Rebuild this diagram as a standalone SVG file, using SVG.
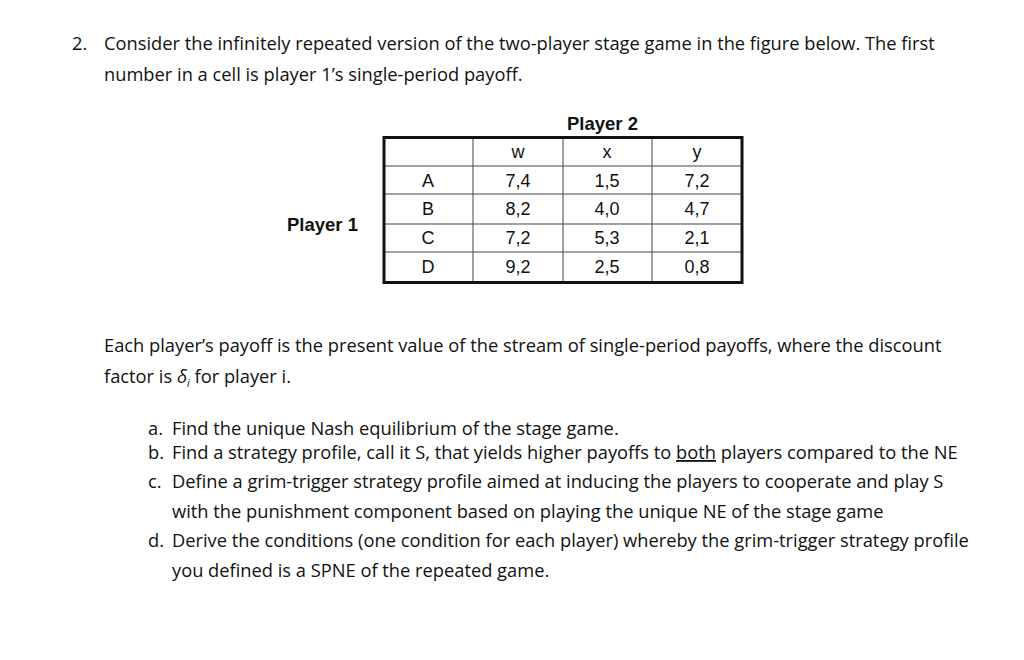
<svg xmlns="http://www.w3.org/2000/svg" width="1024" height="660" viewBox="0 0 1024 660">
<style>
.t{font-family:"Open Sans","Liberation Sans",sans-serif;font-size:18.3px;fill:#111}
.c{font-family:"Liberation Sans",Arial,sans-serif;font-size:18px;fill:#111;text-anchor:middle}
.b{font-family:"Liberation Sans",Arial,sans-serif;font-size:18.5px;font-weight:bold;fill:#111}
.g{stroke:#444;stroke-width:1;fill:none}
</style>
<rect width="1024" height="660" fill="#fff"/>
<g id="text">
<text class="t" x="72" y="50">2.</text>
<text class="t" x="104" y="50">Consider the infinitely repeated version of the two-player stage game in the figure below. The first</text>
<text class="t" x="104" y="81">number in a cell is player 1’s single-period payoff.</text>
<text class="t" x="104" y="352">Each player’s payoff is the present value of the stream of single-period payoffs, where the discount</text>
<text class="t" x="104" y="383">factor is <tspan font-style="italic">δ</tspan><tspan font-style="italic" font-size="11" dy="4">i</tspan><tspan dy="-4"> for player i.</tspan></text>
<text class="t" x="148" y="435">a.</text><text class="t" x="172" y="435">Find the unique Nash equilibrium of the stage game.</text>
<text class="t" x="148" y="459">b.</text><text class="t" x="172" y="459">Find a strategy profile, call it S, that yields higher payoffs to <tspan text-decoration="underline">both</tspan> players compared to the NE</text>
<text class="t" x="148" y="488">c.</text><text class="t" x="172" y="488">Define a grim-trigger strategy profile aimed at inducing the players to cooperate and play S</text>
<text class="t" x="172" y="518">with the punishment component based on playing the unique NE of the stage game</text>
<text class="t" x="148" y="547">d.</text><text class="t" x="172" y="547">Derive the conditions (one condition for each player) whereby the grim-trigger strategy profile</text>
<text class="t" x="172" y="577">you defined is a SPNE of the repeated game.</text>
</g>
<g id="table">
<text class="b" x="567" y="130">Player 2</text>
<text class="b" x="287" y="231">Player 1</text>
<path class="g" d="M473 137V282M563 137V282M652 137V282M383 166H743M383 194H743M383 224H743M383 252H743"/>
<rect x="384" y="137.5" width="358" height="145" fill="none" stroke="#111" stroke-width="3"/>
<text class="c" x="518" y="158">w</text><text class="c" x="607" y="158">x</text><text class="c" x="697" y="158">y</text>
<text class="c" x="428" y="187">A</text><text class="c" x="518" y="187">7,4</text><text class="c" x="607" y="187">1,5</text><text class="c" x="697" y="187">7,2</text>
<text class="c" x="428" y="215">B</text><text class="c" x="518" y="215">8,2</text><text class="c" x="607" y="215">4,0</text><text class="c" x="697" y="215">4,7</text>
<text class="c" x="428" y="244">C</text><text class="c" x="518" y="244">7,2</text><text class="c" x="607" y="244">5,3</text><text class="c" x="697" y="244">2,1</text>
<text class="c" x="428" y="273">D</text><text class="c" x="518" y="273">9,2</text><text class="c" x="607" y="273">2,5</text><text class="c" x="697" y="273">0,8</text>
</g>
</svg>
